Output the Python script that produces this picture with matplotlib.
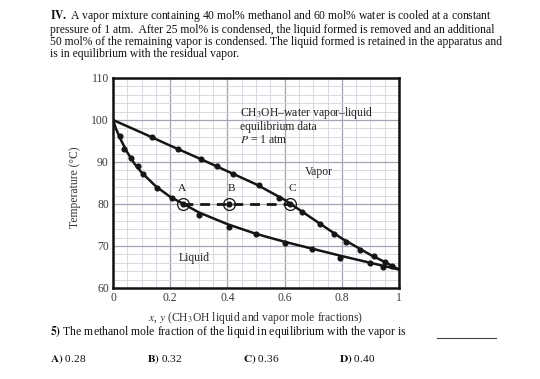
import matplotlib
matplotlib.use("Agg")
import matplotlib.pyplot as plt
import numpy as np

plt.rcParams['font.family'] = ['Liberation Serif', 'DejaVu Serif']
plt.rcParams['mathtext.fontset'] = 'stix'

# ---- data ----
# smooth curves (dew = vapor, bubble = liquid)
dew_x = [0, 0.1, 0.2, 0.3, 0.4, 0.5, 0.6, 0.7, 0.8, 0.9, 0.95, 1.0]
dew_y = [100, 97.0, 93.9, 90.9, 87.8, 84.7, 81.0, 76.4, 71.8, 67.9, 66.2, 64.4]
bub_x = [0, 0.01, 0.025, 0.05, 0.075, 0.1, 0.15, 0.2, 0.25, 0.3, 0.4, 0.5, 0.6, 0.7, 0.8, 0.9, 1.0]
bub_y = [100, 98.0, 95.6, 92.3, 89.6, 87.5, 84.2, 81.7, 79.9, 78.0, 75.2, 72.9, 71.0, 69.3, 67.6, 66.0, 64.4]

# experimental points
vap_x = [0.135, 0.226, 0.306, 0.365, 0.421, 0.511, 0.579, 0.661, 0.725, 0.772, 0.815, 0.865, 0.913, 0.950, 0.977]
vap_y = [96.0, 93.0, 90.6, 89.0, 87.1, 84.6, 81.5, 78.0, 75.2, 72.8, 71.0, 69.1, 67.6, 66.2, 65.3]
liq_x = [0.024, 0.038, 0.062, 0.086, 0.104, 0.155, 0.206, 0.300, 0.406, 0.501, 0.600, 0.696, 0.795, 0.898, 0.944]
liq_y = [96.2, 93.2, 91.0, 89.0, 87.2, 83.8, 81.4, 77.4, 74.6, 72.8, 70.8, 69.2, 67.2, 66.0, 65.0]

# state points A, B, C
abc_labels = ['A', 'B', 'C']
abc_x = [0.245, 0.405, 0.620]
abc_y = [80, 80, 80]

x_ticks = [0, 0.2, 0.4, 0.6, 0.8, 1]
x_ticklabels = ['0', '0.2', '0.4', '0.6', '0.8', '1']
y_ticks = [60, 70, 80, 90, 100, 110]

fig = plt.figure(figsize=(5.4, 3.79), dpi=100)
W, H = 540, 379
ax = fig.add_axes([113 / W, (H - 288) / H, 286 / W, 210 / H])

ax.set_xlim(0, 1)
ax.set_ylim(60, 110)
ax.set_xticks(x_ticks)
ax.set_xticklabels(x_ticklabels)
ax.set_yticks(y_ticks)
ax.set_xticks(np.arange(0, 1.0001, 0.05), minor=True)
ax.set_yticks(np.arange(60, 110.001, 2), minor=True)
ax.grid(which='minor', color='#d3d3e0', lw=0.6)
ax.grid(which='major', color='#a4a4b2', lw=0.9)
ax.set_axisbelow(True)
ax.tick_params(which='both', length=0, labelsize=8.4, labelcolor='#3a3a3a')
ax.tick_params(axis='x', pad=3)
ax.tick_params(axis='y', pad=3)
for s in ax.spines.values():
    s.set_linewidth(1.8)
    s.set_color('#111111')

ax.plot(dew_x, dew_y, color='#151515', lw=1.8, solid_joinstyle='round')
ax.plot(bub_x, bub_y, color='#151515', lw=1.8, solid_joinstyle='round')
ax.plot(vap_x, vap_y, 'o', color='#151515', ms=3.4, ls='none')
ax.plot(liq_x, liq_y, 'o', color='#151515', ms=3.4, ls='none')

ax.plot([abc_x[0], abc_x[-1]], [abc_y[0], abc_y[-1]], color='#151515', lw=2.0,
        dashes=(3.5, 2.5))
ax.plot(abc_x, abc_y, 'o', mfc='none', mec='#151515', ms=8.5, mew=0.9, ls='none')
ax.plot(abc_x, abc_y, 'o', color='#151515', ms=3.4, ls='none')
for lab, xx, yy in zip(abc_labels, abc_x, abc_y):
    ax.text(xx - 0.004 if lab == 'A' else xx + 0.008, yy + 3.6, lab, ha='center', va='center',
            fontsize=8.2, color='#222222')

ax.text(0.443, 98.7, 'CH$_3$OH\u2013water vapor\u2013liquid\nequilibrium data\n$P$ = 1 atm',
        fontsize=8.4, va='center', color='#222222', linespacing=1.05)
ax.text(0.72, 87.7, 'Vapor', fontsize=8.4, ha='center', va='center', color='#222222')
ax.text(0.283, 67.1, 'Liquid', fontsize=8.4, ha='center', va='center', color='#222222')

ax.set_ylabel('Temperature (\u00b0C)', fontsize=8.4, color='#333333')
ax.yaxis.set_label_coords((75 - 113) / 286, (288 - 187) / 210)
ax.yaxis.label.set_va('center')
ax.set_xlabel('$x$, $y$ (CH$_3$OH liquid and vapor mole fractions)', fontsize=8.4,
              color='#333333')
ax.xaxis.set_label_coords(0.5, -(318 - 288) / 210)
ax.xaxis.label.set_va('center')

# header text
header = ['$\\mathbf{IV.}$ A vapor mixture containing 40 mol% methanol and 60 mol% water is cooled at a constant',
          'pressure of 1 atm.  After 25 mol% is condensed, the liquid formed is removed and an additional',
          '50 mol% of the remaining vapor is condensed. The liquid formed is retained in the apparatus and',
          'is in equilibrium with the residual vapor.']
fig.text(50 / W, 1 - 34 / H, '\n'.join(header), fontsize=8.4, va='center', ha='left',
         color='#111111', linespacing=1.02)

fig.text(50 / W, 1 - 332.5 / H,
         '$\\mathbf{5)}$ The methanol mole fraction of the liquid in equilibrium with the vapor is',
         fontsize=8.5, va='center', color='#111111')
fig.add_artist(plt.Line2D([437 / W, 496 / W], [1 - 337.7 / H] * 2, color='#444444', lw=0.8))
answers = ['A)', 'B)', 'C)', 'D)']
answer_vals = ['0.28', '0.32', '0.36', '0.40']
answer_x = [50, 147, 243, 339]
for a, v, xx in zip(answers, answer_vals, answer_x):
    fig.text(xx / W, 1 - 359.5 / H, '$\\mathbf{' + a + '}$ ' + v, fontsize=8.2, va='center',
             color='#111111')

fig.savefig('out.png', dpi=100)
